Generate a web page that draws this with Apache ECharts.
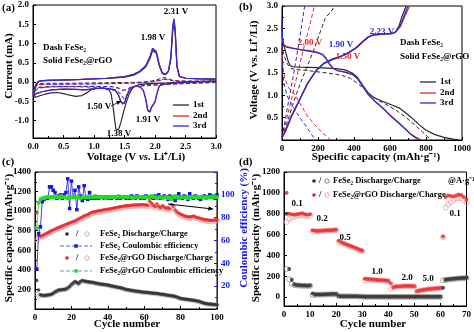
<!DOCTYPE html>
<html><head><meta charset="utf-8">
<script src="https://cdn.jsdelivr.net/npm/echarts@6/dist/echarts.min.js"></script>
<style>html,body{margin:0;padding:0;background:#fff}#c{width:474px;height:332px}</style>
</head><body><div id="c"></div>
<script>
// ---------------- DATA ----------------
// (a) CV curves [voltage, current mA]
const cvSolid1 = [[3.0,0.03],[2.6,0.01],[2.2,-0.02],[1.9,-0.04],[1.75,-0.06],[1.68,-0.1],[1.63,-0.16],[1.58,-0.3],[1.53,-0.52],[1.48,-0.8],[1.44,-1.05],[1.40,-1.24],[1.38,-1.28],[1.36,-1.22],[1.34,-1.0],[1.31,-0.6],[1.28,-0.3],[1.24,-0.18],[1.15,-0.15],[1.05,-0.16],[0.96,-0.19],[0.88,-0.28],[0.8,-0.35],[0.7,-0.37],[0.6,-0.34],[0.5,-0.3],[0.4,-0.27],[0.3,-0.28],[0.2,-0.31],[0.1,-0.36],[0.03,-0.4],[0.0,-0.42],[0.02,-0.3],[0.05,-0.1],[0.08,0.0],[0.12,0.03],[0.3,0.05],[0.6,0.06],[1.0,0.08],[1.3,0.1],[1.5,0.13],[1.65,0.18],[1.75,0.26],[1.85,0.4],[1.92,0.62],[1.96,0.82],[1.99,0.85],[2.02,0.75],[2.07,0.42],[2.12,0.22],[2.17,0.19],[2.22,0.27],[2.26,0.6],[2.29,1.3],[2.31,1.55],[2.33,1.3],[2.36,0.4],[2.4,0.15],[2.5,0.1],[2.7,0.08],[3.0,0.07]];
const cvSolid2 = [[3.0,0.02],[2.6,0.0],[2.3,-0.03],[2.15,-0.05],[2.07,-0.1],[2.03,-0.3],[2.0,-0.5],[1.97,-0.58],[1.94,-0.65],[1.92,-0.76],[1.90,-0.79],[1.88,-0.72],[1.85,-0.45],[1.81,-0.22],[1.76,-0.13],[1.7,-0.1],[1.64,-0.12],[1.58,-0.2],[1.53,-0.38],[1.50,-0.52],[1.47,-0.58],[1.44,-0.5],[1.4,-0.32],[1.35,-0.22],[1.25,-0.17],[1.1,-0.16],[0.95,-0.18],[0.85,-0.2],[0.7,-0.19],[0.5,-0.18],[0.3,-0.2],[0.15,-0.25],[0.05,-0.3],[0.0,-0.36],[0.02,-0.25],[0.05,-0.05],[0.09,0.02],[0.15,0.04],[0.4,0.05],[0.8,0.07],[1.2,0.1],[1.5,0.14],[1.65,0.2],[1.75,0.28],[1.85,0.42],[1.92,0.66],[1.96,0.86],[1.99,0.88],[2.02,0.78],[2.07,0.45],[2.12,0.24],[2.17,0.2],[2.22,0.28],[2.26,0.62],[2.29,1.4],[2.31,1.6],[2.33,1.35],[2.36,0.4],[2.4,0.15],[2.5,0.1],[2.7,0.09],[3.0,0.08]];
const cvSolid3 = [[3.0,0.02],[2.6,0.0],[2.3,-0.03],[2.15,-0.05],[2.07,-0.1],[2.03,-0.32],[2.0,-0.52],[1.97,-0.6],[1.94,-0.66],[1.92,-0.78],[1.90,-0.81],[1.88,-0.74],[1.85,-0.46],[1.81,-0.22],[1.76,-0.13],[1.7,-0.1],[1.64,-0.12],[1.58,-0.2],[1.53,-0.4],[1.50,-0.55],[1.47,-0.6],[1.44,-0.52],[1.4,-0.33],[1.35,-0.22],[1.25,-0.17],[1.1,-0.16],[0.95,-0.18],[0.85,-0.2],[0.7,-0.19],[0.5,-0.18],[0.3,-0.2],[0.15,-0.25],[0.05,-0.3],[0.0,-0.36],[0.02,-0.25],[0.05,-0.05],[0.09,0.02],[0.15,0.04],[0.4,0.05],[0.8,0.07],[1.2,0.1],[1.5,0.14],[1.65,0.2],[1.75,0.28],[1.85,0.43],[1.92,0.68],[1.96,0.88],[1.99,0.9],[2.02,0.8],[2.07,0.46],[2.12,0.24],[2.17,0.2],[2.22,0.29],[2.26,0.65],[2.29,1.45],[2.31,1.65],[2.33,1.4],[2.36,0.42],[2.4,0.15],[2.5,0.1],[2.7,0.09],[3.0,0.08]];
const cvDash1 = [[3.0,0.0],[2.5,-0.02],[2.1,-0.04],[1.9,-0.06],[1.75,-0.08],[1.65,-0.12],[1.58,-0.22],[1.53,-0.35],[1.49,-0.43],[1.46,-0.4],[1.42,-0.28],[1.36,-0.2],[1.3,-0.18],[1.22,-0.2],[1.15,-0.16],[1.0,-0.13],[0.7,-0.12],[0.4,-0.12],[0.2,-0.13],[0.08,-0.17],[0.0,-0.28],[0.03,-0.12],[0.07,-0.05],[0.2,-0.03],[0.6,-0.03],[1.0,-0.02],[1.5,-0.01],[1.8,0.0],[1.95,0.03],[2.05,0.07],[2.13,0.12],[2.2,0.1],[2.28,0.05],[2.4,0.03],[3.0,0.02]];
const cvDash2 = [[3.0,-0.01],[2.5,-0.03],[2.1,-0.06],[1.9,-0.08],[1.7,-0.1],[1.6,-0.13],[1.52,-0.2],[1.47,-0.22],[1.42,-0.17],[1.3,-0.12],[1.0,-0.11],[0.6,-0.11],[0.3,-0.11],[0.1,-0.13],[0.0,-0.22],[0.03,-0.1],[0.08,-0.06],[0.3,-0.05],[1.0,-0.04],[1.6,-0.02],[1.9,0.0],[2.05,0.04],[2.15,0.08],[2.22,0.07],[2.3,0.04],[2.5,0.02],[3.0,0.02]];
const cvDash3 = [[3.0,-0.01],[2.5,-0.04],[2.1,-0.07],[1.9,-0.09],[1.7,-0.11],[1.6,-0.14],[1.52,-0.2],[1.47,-0.21],[1.42,-0.16],[1.3,-0.12],[1.0,-0.11],[0.6,-0.12],[0.3,-0.12],[0.1,-0.14],[0.0,-0.2],[0.03,-0.1],[0.08,-0.07],[0.3,-0.06],[1.0,-0.05],[1.6,-0.03],[1.9,-0.01],[2.05,0.03],[2.15,0.07],[2.22,0.06],[2.3,0.03],[2.5,0.01],[3.0,0.01]];

// (b) charge/discharge profiles [capacity mAh/g, voltage V]
const gsDis1 = [[0,2.5],[3,2.3],[8,2.15],[15,2.05],[25,1.9],[35,1.75],[45,1.67],[60,1.64],[100,1.63],[200,1.62],[300,1.6],[350,1.57],[390,1.5],[420,1.4],[450,1.22],[480,1.05],[510,0.95],[550,0.88],[600,0.8],[650,0.72],[690,0.6],[720,0.5],[760,0.35],[800,0.22],[850,0.12],[900,0.06],[950,0.02],[980,0.0]];
const gsCha1 = [[0,0.05],[20,0.2],[50,0.5],[97,0.89],[142,1.26],[190,1.55],[232,1.71],[280,1.8],[323,1.86],[370,1.95],[413,2.06],[450,2.2],[480,2.3],[510,2.35],[560,2.37],[610,2.38],[630,2.42],[650,2.55],[665,2.75],[680,2.9],[690,3.0]];
const gsDis2 = [[0,2.35],[3,2.22],[10,2.14],[25,2.09],[60,2.06],[100,2.03],[150,2.0],[200,1.96],[225,1.92],[245,1.83],[265,1.7],[285,1.6],[310,1.55],[350,1.52],[390,1.47],[420,1.38],[450,1.2],[480,1.02],[520,0.86],[560,0.72],[600,0.56],[640,0.42],[680,0.27],[720,0.12],[750,0.05],[775,0.0]];
const gsCha2 = [[0,0.05],[20,0.22],[50,0.52],[97,0.9],[142,1.27],[190,1.56],[232,1.72],[280,1.81],[323,1.87],[370,1.96],[413,2.07],[450,2.21],[480,2.31],[510,2.36],[560,2.37],[610,2.39],[630,2.41],[660,2.55],[680,2.75],[700,2.92],[710,3.0]];
const gsDis3 = [[0,2.7],[1,2.35],[4,2.2],[10,2.13],[25,2.08],[60,2.05],[100,2.02],[150,1.99],[200,1.95],[225,1.91],[245,1.82],[265,1.69],[285,1.6],[310,1.55],[350,1.52],[390,1.47],[420,1.37],[450,1.19],[480,1.01],[520,0.85],[560,0.71],[600,0.55],[640,0.41],[680,0.26],[720,0.11],[745,0.04],[765,0.0]];
const gsCha3 = [[0,0.05],[20,0.21],[50,0.51],[97,0.9],[142,1.27],[190,1.56],[232,1.72],[280,1.81],[323,1.87],[370,1.96],[413,2.07],[450,2.21],[480,2.31],[510,2.36],[560,2.37],[610,2.38],[630,2.41],[655,2.55],[675,2.75],[692,2.92],[700,3.0]];
const gdDis1 = [[0,2.15],[5,2.0],[15,1.85],[30,1.7],[50,1.6],[100,1.57],[150,1.55],[250,1.5],[330,1.45],[380,1.38],[420,1.27],[460,1.13],[500,0.98],[540,0.88],[590,0.77],[640,0.65],[690,0.5],[740,0.33],[780,0.18],[810,0.07],[830,0.0]];
const gdCha1 = [[0,0.05],[30,0.4],[60,0.8],[100,1.25],[140,1.65],[180,2.05],[215,2.45],[240,2.72],[255,2.8],[270,2.85],[285,2.95],[295,3.0]];
const gdDis2 = [[0,2.05],[3,1.8],[8,1.55],[18,1.35],[35,1.18],[72,1.0],[110,0.75],[144,0.52],[180,0.35],[220,0.18],[250,0.07],[270,0.0]];
const gdCha2 = [[0,0.05],[25,0.45],[55,0.95],[90,1.55],[120,2.05],[150,2.5],[180,3.0]];
const gdDis3 = [[0,2.0],[2,1.75],[5,1.5],[12,1.25],[27,1.0],[60,0.75],[99,0.5],[135,0.3],[165,0.12],[185,0.0]];
const gdCha3 = [[0,0.05],[20,0.5],[45,1.05],[70,1.6],[95,2.2],[126,3.0]];

// (c) cycling, cycles 1..100
const rgoDisC = [980,750,740,748,760,770,780,790,800,808,815,825,833,840,848,856,864,872,880,886,893,900,910,920,930,940,950,958,966,975,985,990,995,1000,1003,1006,1010,1013,1016,1020,1022,1026,1030,1034,1038,1042,1045,1048,1052,1055,1056,1058,1060,1062,1063,1064,1065,1066,1066,1066,1062,1058,1100,1080,1060,1045,1072,1048,1035,1055,1042,1028,1038,1022,1068,1050,1012,992,978,968,960,952,946,942,940,946,950,943,936,930,924,919,915,912,909,906,905,907,910,912];
const rgoChaC = [700,730,728,736,748,758,768,778,788,796,803,812,820,828,836,844,852,860,868,874,881,888,898,908,918,928,938,946,954,963,972,978,983,988,991,994,998,1001,1004,1008,1010,1014,1018,1022,1026,1030,1033,1036,1040,1043,1044,1046,1048,1050,1051,1052,1053,1054,1054,1054,1050,1045,1080,1066,1047,1032,1058,1036,1022,1041,1030,1015,1025,1010,1050,1036,1000,980,966,956,948,940,934,930,928,933,937,930,924,918,912,907,903,900,897,894,893,895,898,900];
const rgoCE = [71,93,96,97,97,98,98,98,98,98,98,98,98,99,98,98,98,97,98,98,98,98,98,98,97,98,98,98,98,98,98,98,99,98,98,98,98,98,97,98,98,98,98,98,98,99,98,98,98,98,98,98,98,97,98,98,98,98,98,98,98,98,97,99,98,98,97,98,98,97,98,98,97,98,96,98,99,98,97,98,98,98,98,97,98,98,98,98,98,98,98,98,98,97,98,98,98,99,98,98];
const feDisC = [290,195,145,140,138,140,142,145,150,160,175,185,193,195,198,200,205,215,230,250,265,280,270,260,280,290,285,282,278,276,274,270,266,262,258,255,252,250,247,244,240,236,232,228,224,220,216,212,206,200,197,193,190,187,184,181,178,176,174,172,170,168,166,164,162,160,158,155,152,150,147,144,141,138,135,132,128,122,115,108,105,102,100,97,94,92,90,86,82,78,72,66,60,56,52,50,48,46,45,44];
const feChaC = [150,130,138,136,135,137,140,142,148,157,172,182,190,193,195,198,203,212,226,246,262,276,266,257,276,287,282,279,275,273,271,267,263,259,255,252,249,247,244,241,237,233,229,225,221,217,213,209,203,197,194,190,187,184,181,178,175,173,171,169,167,165,163,161,159,157,155,152,149,147,144,141,138,135,132,129,125,119,112,105,102,99,97,94,91,89,87,83,79,75,69,63,57,53,49,47,45,43,42,41];
const feCE = [35,66,72,94,96,97,97,107,107,104,102,97,99,100,97,100,102,114,88,112,98,104,87,107,99,95,108,97,96,102,97,98,97,98,97,98,98,97,98,97,98,97,98,98,97,98,97,98,98,97,98,97,99,98,97,99,98,97,98,97,99,98,97,98,97,99,98,100,97,98,99,98,96,99,98,97,95,97,101,98,97,99,98,96,101,98,97,99,98,97,96,98,99,97,98,100,99,98,97,100];

// (d) rate capability, cycles 1..70
const rgoDisD = [1000,800,795,790,795,800,805,795,790,795,640,635,633,635,636,638,640,642,643,645,540,525,515,505,495,485,475,465,455,445,175,172,170,168,166,164,162,160,158,155,130,95,100,102,104,105,106,106,105,103,55,62,67,71,74,77,80,82,84,86,580,960,975,970,965,975,985,980,960,935];
const rgoChaD = [720,750,765,775,780,780,785,780,778,780,625,630,632,633,634,636,638,640,641,642,525,518,510,500,490,480,470,460,450,442,160,168,167,165,163,161,159,157,155,152,80,92,98,100,102,104,104,104,103,101,50,60,65,70,73,76,78,80,82,85,575,860,890,910,930,945,950,950,930,905];
const feDisD = [800,270,165,120,115,112,110,110,108,110,35,25,25,24,25,26,27,28,28,28,10,8,8,8,7,7,7,7,6,6,3,3,3,3,3,3,3,3,3,3,3,3,3,3,3,3,3,3,3,3,3,3,3,3,3,3,3,3,3,3,90,165,170,172,175,178,180,182,183,185];
const feChaD = [270,170,125,115,112,110,108,108,106,108,20,22,23,23,24,25,25,26,26,26,7,7,7,7,6,6,6,6,5,5,2,2,2,2,2,2,2,2,2,2,2,2,2,2,2,2,2,2,2,2,2,2,2,2,2,2,2,2,2,2,160,165,168,170,173,176,178,180,181,183];
const rateLabels = ['0.1','0.2','0.5','1.0','2.0','5.0','0.1'];

// tick values
const yTicksA = [-1,-0.5,0,0.5,1,1.5,2];
const yTicksD = [0,200,400,600,800,1000,1200];

// ---------------- CHART ----------------
const FONT = '"Liberation Serif","Times New Roman",serif';
const K='#2a2a2a', R='#e8232a', B='#2a2ade', PINK='#f09a9a', GRAY='#b0b0b0', G='#22dd22', CB='#1414e6';
const chart = echarts.init(document.getElementById('c'), null, {renderer:'canvas'});

function lab(extra){return Object.assign({show:true,margin:4,color:'#000',fontFamily:FONT,fontWeight:'bold',fontSize:9},extra||{});}
function ax(grid,pos,min,max,interval,label,extra){
  const o = {type:'value',gridIndex:grid,position:pos,min,max,
    axisLine:{show:true,onZero:false,lineStyle:{color:'#000',width:1}},
    axisTick:{show:true,inside:true,length:3,lineStyle:{color:'#000'}},
    minorTick:{show:interval!=null,splitNumber:2,length:2,lineStyle:{color:'#000'}},
    axisLabel:lab(label),splitLine:{show:false}};
  if(interval!=null) o.interval=interval;
  return Object.assign(o, extra||{});
}
function line(name,data,color,dashed,xi,yi,w){
  return {name,type:'line',xAxisIndex:xi,yAxisIndex:yi,data,showSymbol:false,symbol:'none',
    lineStyle:{color,width:w||1.2,type:dashed?[4,2.5]:'solid'},silent:true,z:dashed?2:3};
}
const pairs = (arr)=>arr.map((v,i)=>[i+1,v]);
function scat(name,arr,color,open,xi,yi,size){
  return {name,type:'scatter',xAxisIndex:xi,yAxisIndex:yi,data:pairs(arr),symbol:'circle',symbolSize:size||4,
    itemStyle: open?{color:'rgba(0,0,0,0)',borderColor:color,borderWidth:0.9}:{color},silent:true,z:open?2:3};
}

const LF = 8.5; // legend font
function T(x,y,text,o){
  o=o||{};
  const st = {text,x:0,y:0,font:`bold ${o.size||9}px ${FONT}`,fill:o.color||'#000',
    align:o.align||'left',verticalAlign:'middle',textAlign:o.align||'left',textVerticalAlign:'middle'};
  if(o.rich) st.rich=o.rich;
  return {type:'text',x,y,rotation:o.rot||0,style:st,z:100,silent:true};
}
function L(x1,y1,x2,y2,color,dash,w){
  return {type:'line',shape:{x1,y1,x2,y2},style:{stroke:color,lineWidth:w||1.3,lineDash:dash||null},z:100,silent:true};
}
function Cc(cx,cy,r,fill,stroke){
  return {type:'circle',shape:{cx,cy,r},style:{fill:fill||'none',stroke:stroke||null,lineWidth:0.9},z:100,silent:true};
}
function Sq(cx,cy,s,fill){return {type:'rect',shape:{x:cx-s/2,y:cy-s/2,width:s,height:s},style:{fill},z:101,silent:true};}
function arrow(x1,y1,x2,y2,color,w){
  const a=Math.atan2(y2-y1,x2-x1), h=5, s=0.45;
  return [L(x1,y1,x2,y2,color,null,w||1),
    {type:'polygon',shape:{points:[[x2,y2],[x2-h*Math.cos(a-s),y2-h*Math.sin(a-s)],[x2-h*Math.cos(a+s),y2-h*Math.sin(a+s)]]},style:{fill:color},z:100,silent:true}];
}
const richTitle = (sz)=>({b:{fontFamily:FONT,fontWeight:'bold',fontSize:sz},i:{fontFamily:FONT,fontWeight:'bold',fontStyle:'italic',fontSize:sz}});

const graphics = [
  T(2,8,'(a)',{size:11}), T(239,7,'(b)',{size:11}), T(2,162,'(c)',{size:11}), T(239,162,'(d)',{size:11}),
  // (a)
  T(9,66,'Current (mA)',{size:11,align:'center',rot:Math.PI/2}),
  T(136,157,'{b|Voltage (V }{i|vs.}{b| Li⁺/Li)}',{size:11,align:'center',rich:richTitle(11)}),
  T(43,48,'Dash FeSe₂'), T(43,61,'Solid FeSe₂@rGO'),
  T(176,12,'2.31 V',{align:'center'}), T(153,38,'1.98 V',{align:'center'}),
  T(99,107,'1.50 V',{align:'center'}), T(148,120,'1.91 V',{align:'center'}), T(119,134,'1.38 V',{align:'center'}),
  ...arrow(111,106,121,101,'#000',0.8),
  L(173,105,189,105,K), L(173,116,189,116,R), L(173,126,189,126,B),
  T(193,105,'1st'), T(193,116,'2nd'), T(193,126,'3rd'),
  // (b)
  T(254,70,'Voltage (V vs. Li⁺/Li)',{size:11,align:'center',rot:Math.PI/2}),
  T(376,157,'Specific capacity (mAh·g⁻¹)',{size:11,align:'center'}),
  T(310,43,'2.00 V',{align:'center',color:R}), T(341,45,'1.90 V',{align:'center',color:B}),
  T(382,32,'2.23 V',{align:'center',color:B}), T(348,57,'1.50 V',{align:'center',color:R}),
  T(400,43,'Dash FeSe₂'), T(400,57,'Solid FeSe₂@rGO'),
  L(420,82,436,82,K), L(420,93,436,93,R), L(420,103,436,103,B),
  T(440,82,'1st'), T(440,93,'2nd'), T(440,103,'3rd'),
  // (c)
  T(9,238,'Specific capacity (mAh·g⁻¹)',{size:11,align:'center',rot:Math.PI/2}),
  T(244,228,'Coulombic efficiency (%)',{size:11,align:'center',rot:Math.PI/2,color:CB}),
  T(127,324,'Cycle number',{size:11,align:'center'}),
  Cc(67,234,1.8,K), T(76,234,'/',{size:LF}), Cc(87,234,2.2,'none',GRAY), T(100,234,'FeSe₂ Discharge/Charge',{size:LF}),
  L(60,246,92,246,'#5a6ad8',[4,2],1), Sq(76,246,3.5,CB), T(100,246,'FeSe₂ Coulombic efficiency',{size:LF}),
  Cc(67,258,1.8,R), T(76,258,'/',{size:LF}), Cc(87,258,2.2,'none',PINK), T(100,258,'FeSe₂@rGO Discharge/Charge',{size:LF}),
  L(60,271,92,271,'#5a9ad8',[4,2],1), Sq(76,271,3.5,G), T(100,271,'FeSe₂@rGO Coulombic efficiency',{size:LF}),
  ...arrow(168,204,213,209,'#000',1),
  // (d)
  T(256,238,'Specific capacity (mAh·g⁻¹)',{size:11,align:'center',rot:Math.PI/2}),
  T(373,324,'Cycle number',{size:11,align:'center'}),
  Cc(314,181,1.8,K), T(319,181,'/',{size:LF}), Cc(327,181,2.2,'none','#777'), T(333,181,'FeSe₂ Discharge/Charge',{size:LF}),
  T(448,181,'@A·g⁻¹',{size:LF}),
  Cc(314,195,1.8,R), T(319,195,'/',{size:LF}), Cc(327,195,2.2,'none',PINK), T(333,195,'FeSe₂@rGO Discharge/Charge',{size:LF}),
  T(297,204,rateLabels[0],{align:'center'}), T(322,219,rateLabels[1],{align:'center'}), T(345,238,rateLabels[2],{align:'center'}),
  T(377,272,rateLabels[3],{align:'center'}), T(407,278,rateLabels[4],{align:'center'}), T(428,279,rateLabels[5],{align:'center'}),
  T(455,214,rateLabels[6],{align:'center'})
];

const plain = v=>String(v);
const option = {
  animation:false,
  backgroundColor:'#fff',
  grid:[
    {left:33,top:5,width:183,height:133,show:true,borderColor:'#000',borderWidth:1,backgroundColor:'transparent'},
    {left:282,top:6,width:185,height:134,show:true,borderColor:'#000',borderWidth:1,backgroundColor:'transparent'},
    {left:35,top:172,width:182,height:137,show:true,borderColor:'#000',borderWidth:1,backgroundColor:'transparent'},
    {left:284,top:172,width:183,height:134,show:true,borderColor:'#000',borderWidth:1,backgroundColor:'transparent'}
  ],
  xAxis:[
    ax(0,'bottom',0,3,0.5,{formatter:v=>v.toFixed(1)}),
    ax(1,'bottom',0,1000,200,{formatter:plain}),
    ax(2,'bottom',0,100,20,{formatter:plain}),
    ax(3,'bottom',0,70,10,{formatter:plain})
  ],
  yAxis:[
    ax(0,'left',-1.45,2,null,{customValues:yTicksA,formatter:v=>v.toFixed(1)},{axisTick:{show:true,inside:true,length:3,customValues:yTicksA,lineStyle:{color:'#000'}}}),
    ax(1,'left',0,3,0.5,{formatter:v=>v===0?'':v.toFixed(1)}),
    ax(2,'left',0,1400,200,{formatter:v=>v===0?'':String(v)}),
    ax(2,'right',0,120,20,{color:CB,formatter:v=>(v===0||v===120)?'':String(v)},
      {axisLine:{show:true,onZero:false,lineStyle:{color:CB,width:1}},axisTick:{show:true,inside:true,length:3,lineStyle:{color:CB}},
       minorTick:{show:true,splitNumber:2,length:2,lineStyle:{color:CB}}}),
    ax(3,'left',-86,1200,null,{customValues:yTicksD,formatter:plain},{axisTick:{show:true,inside:true,length:3,customValues:yTicksD,lineStyle:{color:'#000'}}})
  ],
  graphic:{elements:graphics},
  series:[
    line('a-d1',cvDash1,K,true,0,0,1), line('a-d2',cvDash2,R,true,0,0,1), line('a-d3',cvDash3,B,true,0,0,1),
    line('a-s1',cvSolid1,K,false,0,0), line('a-s2',cvSolid2,R,false,0,0), line('a-s3',cvSolid3,B,false,0,0),
    line('b-dd1',gdDis1,K,true,1,1,1), line('b-dc1',gdCha1,K,true,1,1,1),
    line('b-dd2',gdDis2,R,true,1,1,1), line('b-dc2',gdCha2,R,true,1,1,1),
    line('b-dd3',gdDis3,B,true,1,1,1), line('b-dc3',gdCha3,B,true,1,1,1),
    line('b-sd1',gsDis1,K,false,1,1), line('b-sc1',gsCha1,K,false,1,1),
    line('b-sd2',gsDis2,R,false,1,1), line('b-sc2',gsCha2,R,false,1,1),
    line('b-sd3',gsDis3,B,false,1,1), line('b-sc3',gsCha3,B,false,1,1),
    scat('c-feCha',feChaC,GRAY,true,2,2,4), scat('c-feDis',feDisC,K,false,2,2,3.5),
    scat('c-rgoCha',rgoChaC,PINK,true,2,2,4.5), scat('c-rgoDis',rgoDisC,R,false,2,2,3.5),
    {name:'c-feCE',type:'line',xAxisIndex:2,yAxisIndex:3,data:pairs(feCE),symbol:'rect',symbolSize:3.5,showSymbol:true,
     itemStyle:{color:CB},lineStyle:{color:CB,width:0.8},z:4,silent:true},
    {name:'c-rgoCE',type:'line',xAxisIndex:2,yAxisIndex:3,data:pairs(rgoCE),symbol:'rect',symbolSize:3.5,showSymbol:true,
     itemStyle:{color:G},lineStyle:{color:G,width:0.8},z:5,silent:true},
    scat('d-rgoCha',rgoChaD,PINK,true,3,4,5), scat('d-rgoDis',rgoDisD,R,false,3,4,4),
    scat('d-feCha',feChaD,'#888',true,3,4,5), scat('d-feDis',feDisD,K,false,3,4,4)
  ]
};
chart.setOption(option);
</script></body></html>
